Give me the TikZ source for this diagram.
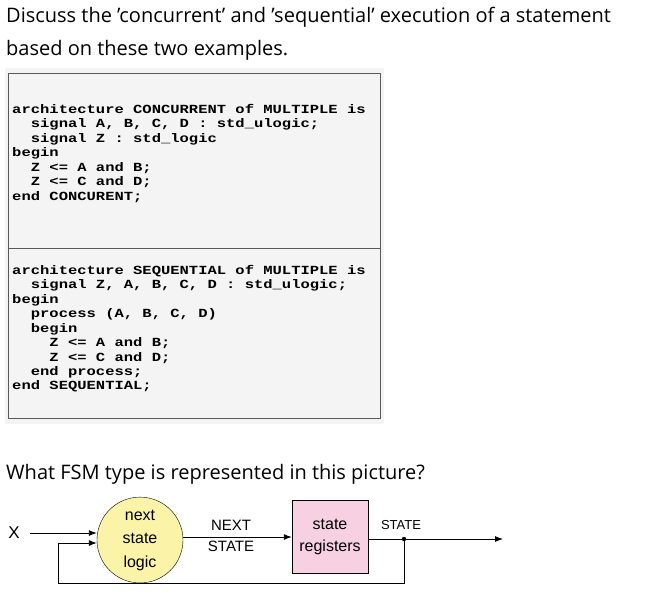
\documentclass[tikz,border=0pt]{standalone}
\usepackage{fontspec}
\setmainfont{Open Sans}
\newfontfamily\arialfont{Liberation Sans}
\newfontfamily\codefont{Liberation Mono}
\usetikzlibrary{arrows.meta,shapes.geometric}
\definecolor{codebg}{HTML}{F4F4F4}
\definecolor{logicfill}{HTML}{FBF3A8}
\definecolor{regfill}{HTML}{F7D1E1}
\tikzset{
  question/.style={anchor=west,inner sep=0pt,font=\fontsize{20}{24}\selectfont},
  code/.style={anchor=north west,inner sep=0pt,align=left,xscale=1.25,transform shape,
    font=\codefont\bfseries\fontsize{12.4}{14.45}\selectfont},
  sig/.style={inner sep=0pt,font=\arialfont\fontsize{17}{19}\selectfont},
  wire/.style={-{Latex[length=8pt,width=6pt]},line width=0.9pt}
}
\begin{document}
\begin{tikzpicture}[x=1pt,y=-1pt]
\useasboundingbox (0,0) rectangle (655,606);
% question texts
\node[question] (q1) at (6,17) {Discuss the 'concurrent' and 'sequential' execution of a statement};
\node[question] (q2) at (6,50) {based on these two examples.};
\node[question] (q3) at (6,474) {What FSM type is represented in this picture?};
% code listing
\fill[codebg] (5,68) rectangle (384,424);
\draw[gray!70!black] (8,73) rectangle (380,418);
\draw[gray!70!black] (8,248) -- (380,248);
\node[code] (conc) at (12,104) {architecture CONCURRENT of MULTIPLE is\\
\ \ signal A, B, C, D : std\_ulogic;\\
\ \ signal Z : std\_logic\\
begin\\
\ \ Z <= A and B;\\
\ \ Z <= C and D;\\
end CONCURENT;};
\node[code] (seq) at (12,265) {architecture SEQUENTIAL of MULTIPLE is\\
\ \ signal Z, A, B, C, D : std\_ulogic;\\
begin\\
\ \ process (A, B, C, D)\\
\ \ begin\\
\ \ \ \ Z <= A and B;\\
\ \ \ \ Z <= C and D;\\
\ \ end process;\\
end SEQUENTIAL;};
% FSM picture
\node[sig] (x) at (14,533) {X};
\node[draw,ellipse,fill=logicfill,minimum width=86pt,minimum height=74pt,inner sep=0pt,
  align=center,font=\arialfont\fontsize{16}{23.5}\selectfont] (logic) at (140,540) {next\\state\\logic};
\node[draw,fill=regfill,minimum width=76pt,minimum height=73pt,inner sep=0pt,
  align=center,font=\arialfont\fontsize{16}{22}\selectfont] (reg) at (330,537) {state\\registers};
\node[sig,align=center,font=\arialfont\fontsize{15}{21}\selectfont] (nxt) at (231,536) {NEXT\\STATE};
\node[sig,font=\arialfont\fontsize{13}{15}\selectfont] (st) at (401,525) {STATE};
\coordinate (tap) at (404,539);
\coordinate (out) at (503,539);
\coordinate (xin) at (30,533);
\coordinate (fb) at (58,543);
\draw[wire] (xin) -- (xin -| logic.west);
\draw[wire] (tap) -- (tap |- 0,583) -| (fb) -- (fb -| logic.west);
\draw[wire] (logic.east |- 0,537) -- (reg.west |- 0,537);
\draw[wire] (reg.east |- tap) -- (out);
\fill (tap) circle (2.2pt);
\end{tikzpicture}
\end{document}
